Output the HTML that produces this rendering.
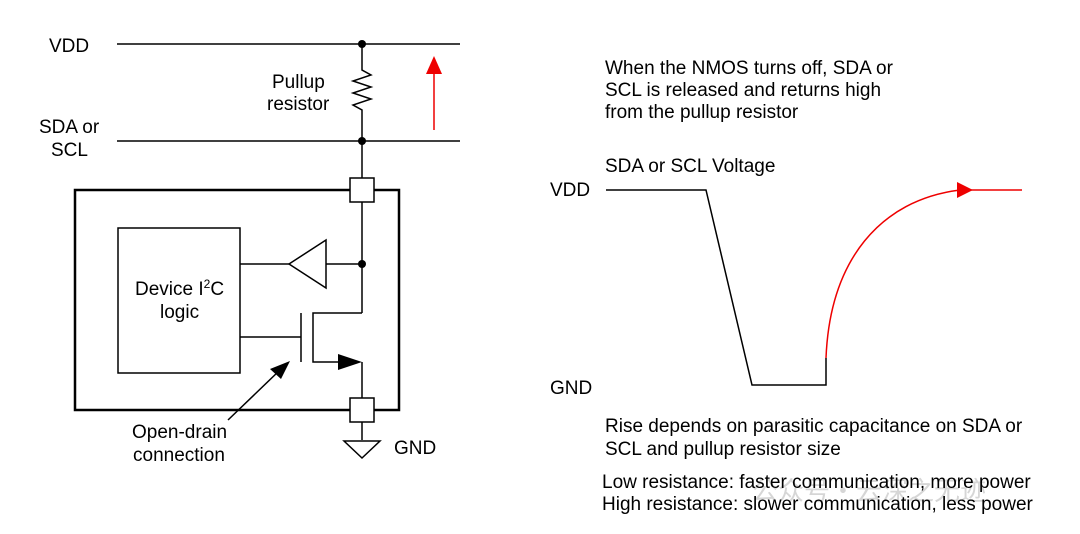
<!DOCTYPE html>
<html><head><style>
html,body{margin:0;padding:0;background:#fff;}
svg{display:block;}
text{font-family:"Liberation Sans",Arial,sans-serif;font-size:19px;fill:#000;}
</style></head><body>
<svg width="1080" height="534" viewBox="0 0 1080 534">
<g stroke="#000" stroke-width="1.5" fill="none">
<line x1="117" y1="44" x2="460" y2="44"/>
<line x1="117" y1="141" x2="460" y2="141"/>
<polyline points="362,44 362,70 371,75 353,81 371,87 353,93 371,99 353,105 362,110 362,141"/>
<line x1="362" y1="141" x2="362" y2="178"/>
<rect x="75" y="190" width="324" height="220" stroke-width="2.5"/>
<rect x="350" y="178" width="24" height="24" fill="#fff"/>
<rect x="350" y="398" width="24" height="24" fill="#fff"/>
<line x1="362" y1="202" x2="362" y2="313"/>
<line x1="362" y1="362" x2="362" y2="398"/>
<rect x="118" y="228" width="122" height="145"/>
<line x1="240" y1="264" x2="289" y2="264"/>
<polygon points="289,264 326,240 326,288"/>
<line x1="326" y1="264" x2="362" y2="264"/>
<polyline points="362,313 313,313 313,362 340,362"/>
<line x1="301" y1="313" x2="301" y2="362"/>
<line x1="240" y1="337" x2="301" y2="337"/>
<line x1="228" y1="420" x2="280" y2="370"/>
<line x1="362" y1="422" x2="362" y2="440"/>
<polygon points="344,441 380,441 362,458"/>
<polyline points="606,190 706,190 752,385 826,385 826,358"/>
</g>
<circle cx="362" cy="44" r="4"/>
<circle cx="362" cy="141" r="4"/>
<circle cx="362" cy="264" r="4"/>
<polygon points="338,354 362,362 338,370"/>
<polygon points="290,361 270,369 281,379"/>
<line x1="434" y1="130" x2="434" y2="72" stroke="#e00" stroke-width="1.5"/>
<polygon points="426,74 442,74 434,56" fill="#e00"/>
<path d="M826,358 C830,260 880,200 960,190" stroke="#e00" stroke-width="1.5" fill="none"/>
<line x1="960" y1="190" x2="1022" y2="190" stroke="#e00" stroke-width="1.5"/>
<polygon points="957,182 973,190 957,198" fill="#e00"/>
<text x="49" y="52">VDD</text>
<text x="39" y="133">SDA or</text>
<text x="51" y="156">SCL</text>
<text x="272" y="88">Pullup</text>
<text x="267" y="110">resistor</text>
<text x="135" y="295">Device I<tspan dy="-7" font-size="12">2</tspan><tspan dy="7">C</tspan></text>
<text x="160" y="318">logic</text>
<text x="132" y="438">Open-drain</text>
<text x="133" y="461">connection</text>
<text x="394" y="454">GND</text>
<text x="605" y="74">When the NMOS turns off, SDA or</text>
<text x="605" y="96">SCL is released and returns high</text>
<text x="605" y="118">from the pullup resistor</text>
<text x="605" y="172">SDA or SCL Voltage</text>
<text x="550" y="196">VDD</text>
<text x="550" y="394">GND</text>
<text x="605" y="432">Rise depends on parasitic capacitance on SDA or</text>
<text x="605" y="455">SCL and pullup resistor size</text>
<text x="752" y="500" style="font-family:'Liberation Sans','Noto Sans CJK SC',sans-serif;font-size:26px;fill:#bbb;opacity:0.6">公众号・云深之无迹</text>
<text x="602" y="488">Low resistance: faster communication, more power</text>
<text x="602" y="510">High resistance: slower communication, less power</text>
</svg>
</body></html>
